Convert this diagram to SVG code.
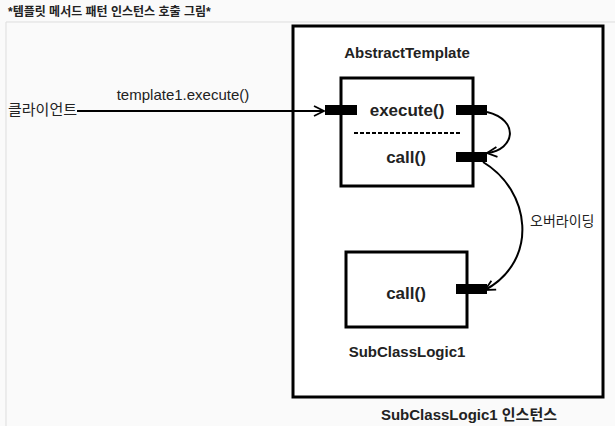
<svg xmlns="http://www.w3.org/2000/svg" width="615" height="426" viewBox="0 0 615 426">
<style>
text{font-family:"Liberation Sans","Noto Sans CJK KR",sans-serif;fill:#222}
.b{font-weight:bold}
.box{fill:#fff;stroke:#000;stroke-width:3}
.port{fill:#000}
.c{fill:none;stroke:#000;stroke-width:2}
</style>
<defs><marker id="a" viewBox="0 0 12 12" refX="11" refY="6" markerWidth="12" markerHeight="12" markerUnits="userSpaceOnUse" orient="auto"><path d="M1,1 L11,6 L1,11" fill="none" stroke="#000" stroke-width="1.8"/></marker></defs>
<rect width="615" height="426" fill="#fafafa"/>
<text x="8" y="16" font-size="12" class="b" fill="#333">*템플릿 메서드 패턴 인스턴스 호출 그림*</text>
<path d="M6,426 V22 H615" fill="none" stroke="#ddd" stroke-width="1"/>
<g id="instance"><rect x="293" y="26" width="310" height="371" class="box"/><text x="469" y="420" font-size="15" class="b" text-anchor="middle">SubClassLogic1 인스턴스</text></g>
<g id="client"><text x="8" y="115" font-size="15">클라이언트</text></g>
<g id="abstract"><text x="407" y="58" font-size="15" class="b" text-anchor="middle">AbstractTemplate</text>
<rect x="341" y="78" width="132" height="108" class="box"/>
<text x="407" y="116" font-size="17" class="b" text-anchor="middle">execute()</text>
<line x1="354" y1="133" x2="460" y2="133" stroke="#000" stroke-width="2" stroke-dasharray="4,2"/>
<text x="406" y="163" font-size="17" class="b" text-anchor="middle">call()</text>
<rect x="325" y="105" width="32" height="10" class="port"/>
<rect x="456" y="105" width="31" height="10" class="port"/>
<rect x="456" y="152" width="31" height="10" class="port"/></g>
<g id="sub"><rect x="346" y="252" width="121" height="75" class="box"/>
<text x="406" y="299" font-size="17" class="b" text-anchor="middle">call()</text>
<rect x="456" y="284" width="31" height="10" class="port"/>
<text x="407" y="357" font-size="15" class="b" text-anchor="middle">SubClassLogic1</text></g>
<g id="connectors">
<line x1="77" y1="111" x2="324" y2="111" class="c" marker-end="url(#a)"/>
<text x="183" y="100" font-size="15" text-anchor="middle">template1.execute()</text>
<path d="M487,112 C520,120 515,150 487,153" class="c" marker-end="url(#a)"/>
<path d="M483,162 C530,190 540,260 485,290" class="c" marker-end="url(#a)"/>
<text x="530" y="226" font-size="14">오버라이딩</text>
</g>
</svg>
